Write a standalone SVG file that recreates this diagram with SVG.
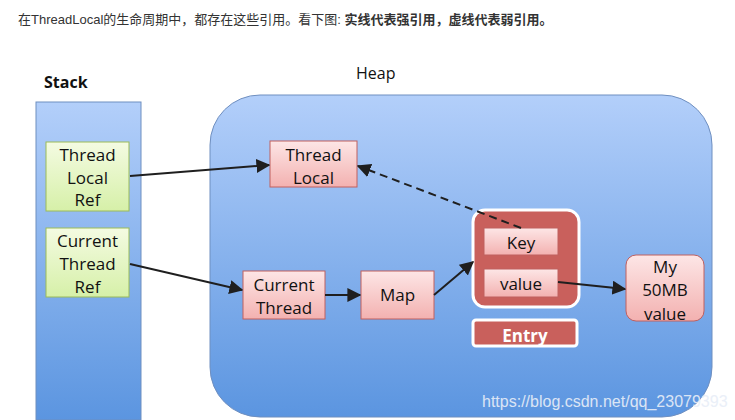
<svg xmlns="http://www.w3.org/2000/svg" width="735" height="420" viewBox="0 0 735 420">
<defs>
<linearGradient id="blue" x1="0" y1="0" x2="0" y2="1"><stop offset="0" stop-color="#b3cffa"/><stop offset="1" stop-color="#5b95e0"/></linearGradient>
<linearGradient id="green" x1="0" y1="0" x2="0" y2="1"><stop offset="0" stop-color="#f4fbe2"/><stop offset="1" stop-color="#d6f0a8"/></linearGradient>
<linearGradient id="pink" x1="0" y1="0" x2="0" y2="1"><stop offset="0" stop-color="#fde6e6"/><stop offset="1" stop-color="#f3b1b0"/></linearGradient>
<marker id="ah" viewBox="0 0 10 10" refX="9" refY="5" markerWidth="7" markerHeight="7" orient="auto"><path d="M0,0 L10,5 L0,10 z" fill="#1f1f1f"/></marker>
</defs>
<style>
.t{font-family:"Open Sans","Liberation Sans",sans-serif;font-size:17px;fill:#111;text-anchor:middle}
.w{font-family:"Open Sans","Liberation Sans",sans-serif;font-size:17px;fill:#ffffff;font-weight:bold;text-anchor:middle}
.pk{fill:url(#pink);stroke:#c0605f;stroke-width:1}
.gr{fill:url(#green);stroke:#9bbb59;stroke-width:1}
.c{stroke:#1f1f1f;stroke-width:2;fill:none;marker-end:url(#ah)}
</style>
<rect width="735" height="420" fill="#fff"/>
<text x="18" y="24" font-family="'Liberation Sans','Noto Sans CJK SC',sans-serif" font-size="13" fill="#333">在ThreadLocal的生命周期中，都存在这些引用。看下图: <tspan font-weight="bold">实线代表强引用，虚线代表弱引用。</tspan></text>
<text x="44" y="88" font-family="'Open Sans','Liberation Sans',sans-serif" font-size="16" font-weight="bold" fill="#111">Stack</text>
<text x="356" y="79" font-family="'Open Sans','Liberation Sans',sans-serif" font-size="16" fill="#111">Heap</text>
<rect x="36" y="102" width="105" height="318" fill="url(#blue)" stroke="#6f8fc0"/>
<rect x="210" y="95" width="502" height="322" rx="50" fill="url(#blue)" stroke="#6f8fc0"/>
<g id="tlref"><rect class="gr" x="46" y="142" width="83" height="69"/><text class="t" x="87.5" y="161">Thread</text><text class="t" x="87.5" y="184">Local</text><text class="t" x="87.5" y="206">Ref</text></g>
<g id="ctref"><rect class="gr" x="46" y="228" width="83" height="69"/><text class="t" x="87.5" y="247">Current</text><text class="t" x="87.5" y="270">Thread</text><text class="t" x="87.5" y="293">Ref</text></g>
<g id="tl"><rect class="pk" x="270" y="141" width="87" height="46"/><text class="t" x="313.5" y="161">Thread</text><text class="t" x="313.5" y="184">Local</text></g>
<g id="ct"><rect class="pk" x="243" y="271" width="82" height="48"/><text class="t" x="284" y="291">Current</text><text class="t" x="284" y="314">Thread</text></g>
<g id="map"><rect class="pk" x="361" y="271" width="73" height="48"/><text class="t" x="397.5" y="301">Map</text></g>
<g id="entry"><rect x="473" y="210" width="106" height="97" rx="12" fill="#c9605c" stroke="#fff" stroke-width="3"/>
<rect class="pk" x="484" y="228" width="74" height="27"/><text class="t" x="521" y="249">Key</text>
<rect class="pk" x="484" y="269" width="74" height="28"/><text class="t" x="521" y="290">value</text></g>
<g id="entrylabel"><rect x="473" y="320" width="104" height="26" rx="3" fill="#c9605c" stroke="#fff" stroke-width="3"/><text class="w" x="525" y="342">Entry</text></g>
<g id="my"><rect class="pk" x="626" y="255" width="78" height="66" rx="10"/><text class="t" x="665" y="273">My</text><text class="t" x="665" y="296">50MB</text><text class="t" x="665" y="320">value</text></g>
<g id="connectors">
<line class="c" x1="130" y1="176" x2="269" y2="165"/>
<line class="c" x1="130" y1="264" x2="242" y2="290"/>
<line class="c" x1="325" y1="295" x2="360" y2="295"/>
<line class="c" x1="434" y1="295" x2="473" y2="262"/>
<line class="c" x1="558" y1="282" x2="625" y2="289"/>
<line class="c" x1="521" y1="228" x2="358" y2="166" stroke-dasharray="8,5"/>
</g>
<text x="482" y="407" font-family="'Liberation Sans',sans-serif" font-size="16" fill="#e8eef8" opacity="0.9">https://blog.csdn.net/qq_23079393</text>
</svg>
